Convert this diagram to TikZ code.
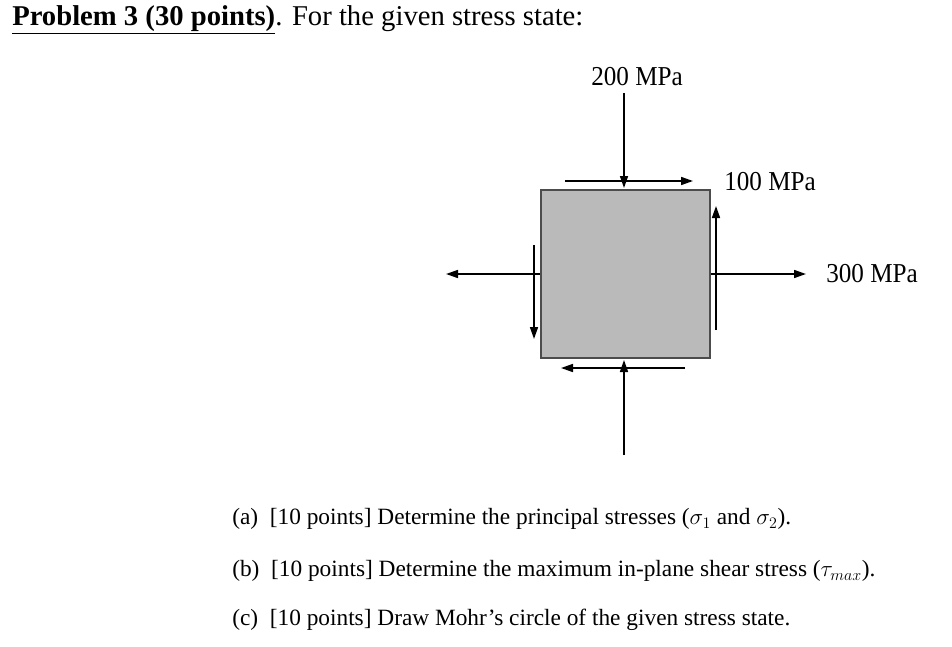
\documentclass[tikz,border=0pt]{standalone}
\usepackage{fontspec}
\setmainfont{Liberation Serif}
\usetikzlibrary{arrows.meta}
\begin{document}
\begin{tikzpicture}[x=0.75pt,y=-0.75pt,
  arr/.style={line width=1.2pt,-{Triangle[length=9pt,width=6pt]}},
  lbl/.style={font=\fontsize{20.5}{24}\selectfont,inner sep=0pt,xscale=0.92},
  txt/.style={font=\fontsize{17.5}{21}\selectfont,anchor=west,inner sep=0pt}]
\useasboundingbox (0,0) rectangle (952,646);
\node[draw=black!70,line width=0.8pt,fill=black!27,minimum width=169*0.75pt,minimum height=168*0.75pt,inner sep=0pt] (sq) at (625.5,274) {};
\coordinate (t0) at (624,93); \coordinate (t1) at (624,188);
\coordinate (h0) at (565,181); \coordinate (h1) at (693,181);
\coordinate (r0) at (716,330); \coordinate (r1) at (716,206);
\coordinate (rh0) at (711,274); \coordinate (rh1) at (806,274);
\coordinate (l0) at (540,274); \coordinate (l1) at (446,274);
\coordinate (lv0) at (534,245); \coordinate (lv1) at (534,339);
\coordinate (b0) at (624,455); \coordinate (b1) at (624,360);
\coordinate (bh0) at (685,368); \coordinate (bh1) at (561,368);
\draw[arr] (t0) -- (t1);
\draw[arr] (h0) -- (h1);
\draw[arr] (r0) -- (r1);
\draw[arr] (rh0) -- (rh1);
\draw[arr] (l0) -- (l1);
\draw[arr] (lv0) -- (lv1);
\draw[arr] (b0) -- (b1);
\draw[arr] (bh0) -- (bh1);
\node[lbl] (la) at (637,77) {200 MPa};
\node[lbl] (lb) at (770,182) {100 MPa};
\node[lbl] (lc) at (872,274) {300 MPa};
\node[txt,font=\fontsize{21.5}{26}\selectfont] (title) at (12,20) {\textbf{\underline{Problem 3 (30 points)}}. For the given stress state:};
\node[txt] (qa) at (232,519) {(a)\ \ [10 points] Determine the principal stresses ($\sigma_1$ and $\sigma_2$).};
\node[txt] (qb) at (232,571) {(b)\ \ [10 points] Determine the maximum in-plane shear stress ($\tau_{max}$).};
\node[txt] (qc) at (232,620) {(c)\ \ [10 points] Draw Mohr’s circle of the given stress state.};
\end{tikzpicture}
\end{document}
